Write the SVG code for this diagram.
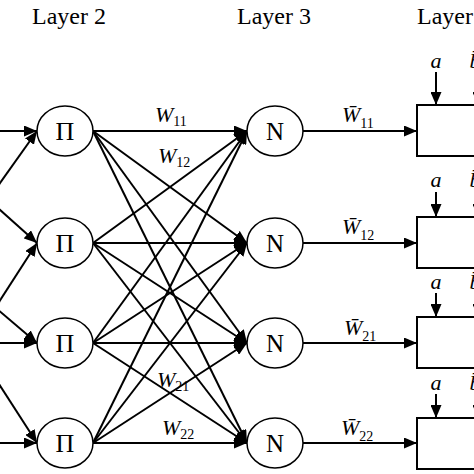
<svg xmlns="http://www.w3.org/2000/svg" width="474" height="474" viewBox="0 0 474 474">
<defs>
<marker id="ah" markerUnits="userSpaceOnUse" markerWidth="13" markerHeight="11" refX="13" refY="5.5" orient="auto" viewBox="0 0 13 11">
<path d="M0,0 L13,5.5 L0,11 z" fill="#000"/>
</marker>
<style>
.ln{stroke:#000;stroke-width:2;fill:none;marker-end:url(#ah)}
.nd{fill:#fff;stroke:#000;stroke-width:1.5}
.bx{fill:#fff;stroke:#000;stroke-width:2}
.t{font-family:"Liberation Serif","Times New Roman",serif;fill:#000}
.lay{font-size:24px}
.sym{font-size:26px;text-anchor:middle}
.w{font-size:22px;font-style:italic}
.s{font-size:14px;font-style:normal}
.ab{font-size:22px;font-style:italic;text-anchor:middle}
</style>
</defs>
<rect width="474" height="474" fill="#fff"/>
<g id="layer-labels">
<text class="t lay" x="32" y="24">Layer 2</text>
<text class="t lay" x="237" y="24">Layer 3</text>
<text class="t lay" x="417" y="24">Layer 4</text>
</g>
<g id="connectors">
<!-- layer1 -> layer2 (from off-canvas) -->
<line class="ln" x1="-10" y1="131" x2="37" y2="131"/>
<line class="ln" x1="-10" y1="197" x2="37" y2="131"/>
<line class="ln" x1="-10" y1="201" x2="37" y2="243"/>
<line class="ln" x1="-10" y1="316" x2="37" y2="243"/>
<line class="ln" x1="-10" y1="303" x2="37" y2="343"/>
<line class="ln" x1="-10" y1="343" x2="37" y2="343"/>
<line class="ln" x1="-10" y1="370" x2="37" y2="443"/>
<line class="ln" x1="-10" y1="443" x2="37" y2="443"/>
<!-- layer2 -> layer3 -->
<line class="ln" x1="93" y1="131" x2="247" y2="131"/>
<line class="ln" x1="93" y1="131" x2="247" y2="243"/>
<line class="ln" x1="93" y1="131" x2="247" y2="343"/>
<line class="ln" x1="93" y1="131" x2="247" y2="443"/>
<line class="ln" x1="93" y1="243" x2="247" y2="131"/>
<line class="ln" x1="93" y1="243" x2="247" y2="243"/>
<line class="ln" x1="93" y1="243" x2="247" y2="343"/>
<line class="ln" x1="93" y1="243" x2="247" y2="443"/>
<line class="ln" x1="93" y1="343" x2="247" y2="131"/>
<line class="ln" x1="93" y1="343" x2="247" y2="243"/>
<line class="ln" x1="93" y1="343" x2="247" y2="343"/>
<line class="ln" x1="93" y1="343" x2="247" y2="443"/>
<line class="ln" x1="93" y1="443" x2="247" y2="131"/>
<line class="ln" x1="93" y1="443" x2="247" y2="243"/>
<line class="ln" x1="93" y1="443" x2="247" y2="343"/>
<line class="ln" x1="93" y1="443" x2="247" y2="443"/>
<!-- layer3 -> layer4 -->
<line class="ln" x1="303" y1="131" x2="417" y2="131"/>
<line class="ln" x1="303" y1="243" x2="417" y2="243"/>
<line class="ln" x1="303" y1="343" x2="417" y2="343"/>
<line class="ln" x1="303" y1="443" x2="417" y2="443"/>
<!-- a and b inputs -->
<line class="ln" x1="436" y1="72" x2="436" y2="105"/>
<line class="ln" x1="478" y1="72" x2="478" y2="105"/>
<line class="ln" x1="436" y1="192" x2="436" y2="217"/>
<line class="ln" x1="478" y1="192" x2="478" y2="217"/>
<line class="ln" x1="436" y1="293" x2="436" y2="317"/>
<line class="ln" x1="478" y1="293" x2="478" y2="317"/>
<line class="ln" x1="436" y1="394" x2="436" y2="418"/>
<line class="ln" x1="478" y1="394" x2="478" y2="418"/>
</g>
<g id="weight-labels">
<text class="t w" x="155" y="122">W<tspan class="s" dy="4">11</tspan></text>
<text class="t w" x="158" y="163">W<tspan class="s" dy="4">12</tspan></text>
<text class="t w" x="157" y="387">W<tspan class="s" dy="4">21</tspan></text>
<text class="t w" x="162" y="435">W<tspan class="s" dy="4">22</tspan></text>
<text class="t w" x="342" y="122">W&#x304;<tspan class="s" dy="6">11</tspan></text>
<text class="t w" x="342" y="234">W&#x304;<tspan class="s" dy="6">12</tspan></text>
<text class="t w" x="344" y="335">W&#x304;<tspan class="s" dy="6">21</tspan></text>
<text class="t w" x="341" y="435">W&#x304;<tspan class="s" dy="6">22</tspan></text>
</g>
<g id="pi1"><ellipse class="nd" cx="65" cy="131" rx="28" ry="25"/><text class="t sym" x="65" y="140">Π</text></g>
<g id="pi2"><ellipse class="nd" cx="65" cy="243" rx="28" ry="25"/><text class="t sym" x="65" y="252">Π</text></g>
<g id="pi3"><ellipse class="nd" cx="65" cy="343" rx="28" ry="25"/><text class="t sym" x="65" y="352">Π</text></g>
<g id="pi4"><ellipse class="nd" cx="65" cy="443" rx="28" ry="25"/><text class="t sym" x="65" y="452">Π</text></g>
<g id="n1"><ellipse class="nd" cx="275" cy="131" rx="28" ry="25"/><text class="t sym" x="275" y="140" style="font-size:25px">N</text></g>
<g id="n2"><ellipse class="nd" cx="275" cy="243" rx="28" ry="25"/><text class="t sym" x="275" y="252" style="font-size:25px">N</text></g>
<g id="n3"><ellipse class="nd" cx="275" cy="343" rx="28" ry="25"/><text class="t sym" x="275" y="352" style="font-size:25px">N</text></g>
<g id="n4"><ellipse class="nd" cx="275" cy="443" rx="28" ry="25"/><text class="t sym" x="275" y="452" style="font-size:25px">N</text></g>
<g id="box1"><rect class="bx" x="417" y="105" width="100" height="51"/><text class="t ab" x="436" y="68">a</text><text class="t ab" x="475" y="68">b&#x304;</text></g>
<g id="box2"><rect class="bx" x="417" y="217" width="100" height="51"/><text class="t ab" x="436" y="187">a</text><text class="t ab" x="475" y="187">b&#x304;</text></g>
<g id="box3"><rect class="bx" x="417" y="317" width="100" height="51"/><text class="t ab" x="436" y="289">a</text><text class="t ab" x="475" y="289">b&#x304;</text></g>
<g id="box4"><rect class="bx" x="417" y="418" width="100" height="51"/><text class="t ab" x="436" y="390">a</text><text class="t ab" x="475" y="390">b&#x304;</text></g>
</svg>
